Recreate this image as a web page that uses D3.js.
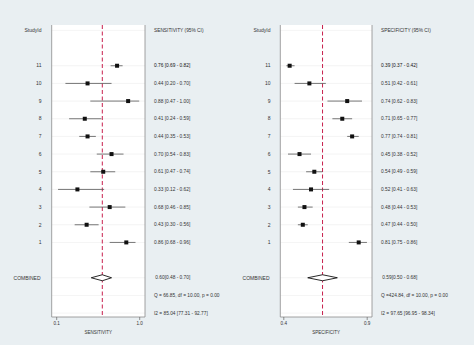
<!DOCTYPE html>
<html><head><meta charset="utf-8">
<script src="https://cdn.jsdelivr.net/npm/d3@7/dist/d3.min.js"></script>
<style>body{margin:0;background:#e9eff2;}svg{display:block;font-family:"Liberation Sans",Arial,sans-serif;}</style>
</head><body>
<svg id="c" width="474" height="345"></svg>
<script>
const studies = [11,10,9,8,7,6,5,4,3,2,1];
const sens   = [0.76,0.44,0.88,0.41,0.44,0.70,0.61,0.33,0.68,0.43,0.86];
const sensLo = [0.69,0.20,0.47,0.24,0.35,0.54,0.47,0.12,0.46,0.30,0.68];
const sensHi = [0.82,0.70,1.00,0.59,0.53,0.83,0.74,0.62,0.85,0.56,0.96];
const spec   = [0.39,0.51,0.74,0.71,0.77,0.45,0.54,0.52,0.48,0.47,0.81];
const specLo = [0.37,0.42,0.62,0.65,0.74,0.38,0.49,0.41,0.44,0.44,0.75];
const specHi = [0.42,0.61,0.83,0.77,0.81,0.52,0.59,0.63,0.53,0.50,0.86];
const sensPooled = [0.60,0.48,0.70];
const specPooled = [0.59,0.50,0.68];
const sensStats = ["Q = 66.85, df = 10.00, p =  0.00","I2 = 85.04 [77.31 - 92.77]"];
const specStats = ["Q =424.84, df = 10.00, p =  0.00","I2 = 97.65 [96.95 - 98.34]"];
const sensTicks = [0.1,1.0], sensTickLabels = ["0.1","1.0"];
const specTicks = [0.4,0.9], specTickLabels = ["0.4","0.9"];

const svg = d3.select("#c");
const fmt = d3.format(".2f");
const y = d3.scaleLinear().domain([0,16]).range([30.4,313.1]);

function panel(o){
  const g = svg.append("g");
  const top=25, bot=317;
  g.append("rect").attr("x",o.px0).attr("y",top).attr("width",o.px1-o.px0).attr("height",bot-top).attr("fill","#fff");
  // gridlines
  const rows=[0,2,3,4,5,6,7,8,9,10,11,12,14,15,16];
  g.selectAll(".gl").data(rows).join("line")
    .attr("x1",o.px0).attr("x2",o.px1).attr("y1",d=>y(d)).attr("y2",d=>y(d))
    .attr("stroke","#ececec").attr("stroke-width",0.6);
  // borders
  g.append("path").attr("d",`M${o.px0},${top}V${bot}H${o.px1}V${top}`)
    .attr("fill","none").attr("stroke","#8a8a8a").attr("stroke-width",0.8);
  // pooled dashed line
  g.append("line").attr("x1",o.x(o.pooled[0])).attr("x2",o.x(o.pooled[0]))
    .attr("y1",top).attr("y2",bot).attr("stroke","#c8204e").attr("stroke-width",1)
    .attr("stroke-dasharray","4,2.5");
  // labels left
  const lab = g.append("g").attr("font-size",5).attr("fill","#333").attr("text-anchor","end");
  lab.append("text").attr("x",o.lx).attr("y",y(0)).attr("dy","0.35em").text("StudyId");
  lab.selectAll(".sl").data(studies).join("text").attr("x",o.lx).attr("y",(d,i)=>y(i+2)).attr("dy","0.35em").text(d=>d);
  lab.append("text").attr("x",o.lx-1).attr("y",y(14)).attr("dy","0.35em").text("COMBINED");
  // whiskers
  g.selectAll(".ci").data(o.v).join("line")
    .attr("x1",(d,i)=>o.x(o.lo[i])).attr("x2",(d,i)=>o.x(o.hi[i]))
    .attr("y1",(d,i)=>y(i+2)).attr("y2",(d,i)=>y(i+2))
    .attr("stroke","#555").attr("stroke-width",0.8);
  g.selectAll(".pt").data(o.v).join("rect")
    .attr("x",d=>o.x(d)-2).attr("y",(d,i)=>y(i+2)-2).attr("width",4).attr("height",4)
    .attr("fill","#111");
  // diamond
  const yc=y(14);
  g.append("path").attr("d",`M${o.x(o.pooled[1])},${yc}L${o.x(o.pooled[0])},${yc-3}L${o.x(o.pooled[2])},${yc}L${o.x(o.pooled[0])},${yc+3}Z`)
    .attr("fill","#fff").attr("stroke","#111").attr("stroke-width",0.9);
  // right text
  const rt = g.append("g").attr("font-size",4.8).attr("fill","#333");
  rt.append("text").attr("x",o.tx).attr("y",y(0)).attr("dy","0.35em").text(o.header);
  rt.selectAll(".vt").data(o.v).join("text").attr("x",o.tx).attr("y",(d,i)=>y(i+2)).attr("dy","0.35em")
    .attr("fill",(d,i)=>i===0?"#111":"#333")
    .text((d,i)=>`${fmt(d)} [${fmt(o.lo[i])} - ${fmt(o.hi[i])}]`);
  rt.append("text").attr("x",o.tx+1.3).attr("y",y(14)).attr("dy","0.35em")
    .text(`${fmt(o.pooled[0])}[${fmt(o.pooled[1])} - ${fmt(o.pooled[2])}]`);
  rt.append("text").attr("x",o.tx).attr("y",y(15)).attr("dy","0.35em").text(o.stats[0]);
  rt.append("text").attr("x",o.tx).attr("y",y(16)).attr("dy","0.35em").text(o.stats[1]);
  // axis
  const ax = g.append("g").attr("transform",`translate(0,${bot})`)
    .call(d3.axisBottom(o.xa).tickValues(o.ticks).tickFormat((d,i)=>o.tickLabels[i]).tickSize(3).tickPadding(2));
  ax.select(".domain").remove();
  ax.selectAll("line").attr("stroke","#666").attr("stroke-width",0.7);
  ax.selectAll("text").attr("font-size",4.6).attr("fill","#333").attr("font-family","Liberation Sans, Arial, sans-serif");
  g.append("text").attr("x",(o.px0+o.px1)/2).attr("y",332.7).attr("dy","0.35em").attr("text-anchor","middle")
    .attr("font-size",4.5).attr("fill","#333").text(o.title);
}

const xS = d3.scaleLinear().domain([0.1,1.0]).range([56.2,139.2]);
panel({px0:51.7,px1:145,x:xS,xa:xS,lx:41.5,tx:154,v:sens,lo:sensLo,hi:sensHi,pooled:sensPooled,
  header:"SENSITIVITY (95% CI)",stats:sensStats,ticks:sensTicks,tickLabels:sensTickLabels,title:"SENSITIVITY"});
const xP = d3.scaleLinear().domain([0.4,0.9]).range([291.3,373.5]);
const xPa = d3.scaleLinear().domain([0.4,0.9]).range([283.3,366.7]);
panel({px0:280.3,px1:372,x:xP,xa:xPa,lx:270.5,tx:381,v:spec,lo:specLo,hi:specHi,pooled:specPooled,
  header:"SPECIFICITY (95% CI)",stats:specStats,ticks:specTicks,tickLabels:specTickLabels,title:"SPECIFICITY"});
</script>
</body></html>
